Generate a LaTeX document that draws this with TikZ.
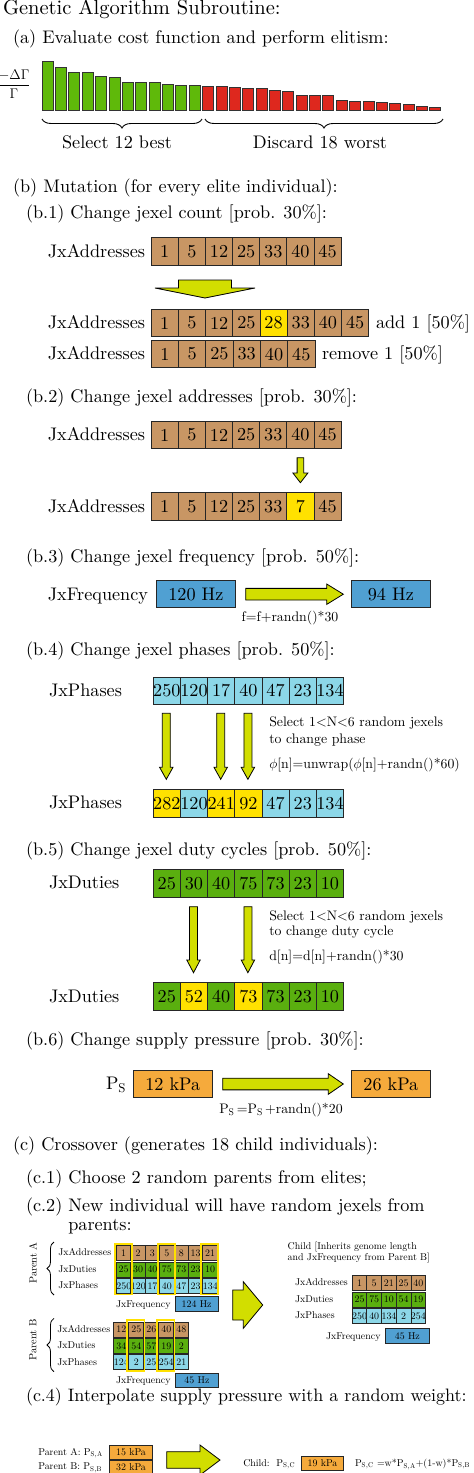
\RequirePackage{fix-cm}
\documentclass[tikz,border=0pt]{standalone}
\usepackage{fontspec}
\setmainfont{lmroman10-regular}[Extension=.otf, BoldFont=lmroman10-bold, ItalicFont=lmroman10-italic]
\usetikzlibrary{decorations.pathreplacing}
\definecolor{bargreen}{RGB}{95,185,10}
\definecolor{barred}{RGB}{222,40,30}
\definecolor{addr}{RGB}{200,150,100}
\definecolor{hl}{RGB}{255,225,0}
\definecolor{arr}{RGB}{210,222,0}
\definecolor{phcol}{RGB}{140,215,232}
\definecolor{frcol}{RGB}{80,160,210}
\definecolor{dutycol}{RGB}{90,175,15}
\definecolor{prcol}{RGB}{245,170,60}
\newcommand\mainf{\fontsize{18.2}{21}\selectfont}
\newcommand\titlef{\fontsize{20.5}{24}\selectfont}
\newcommand\smallf{\fontsize{13.8}{16.6}\selectfont}
\newcommand\tinyf{\fontsize{9.9}{11.4}\selectfont}
\tikzset{
  txt/.style={anchor=base west, inner sep=0pt, outer sep=0pt, font=\mainf},
  cellb/.style={draw=black!85, line width=0.9pt, inner sep=0pt, anchor=north west},
  boxb/.style={draw=black!85, line width=1pt, inner sep=0pt},
  blockarr/.style={fill=arr, draw=black, line width=0.8pt, line join=miter},
  bracesty/.style={line width=0.9pt, decorate},
  hlbox/.style={draw=hl, line width=1.8pt},
}
% #1 prefix, #2 x0, #3 y0, #4 w, #5 h, #6 font, #7 list v/c
\newcommand\cellrow[7]{%
  \foreach \v/\c [count=\i] in {#7}{%
    \node[cellb, font=#6, fill=\c, minimum width=#4pt, minimum height=#5pt] (#1\i) at ({#2+(\i-1)*#4},#3) {\v};
  }}
% #1 cx, #2 ytop, #3 yhead, #4 ytip, #5 shaft half, #6 head half
\newcommand\darrow[6]{\draw[blockarr] ({#1-#5},#2) -- ({#1+#5},#2) -- ({#1+#5},#3) -- ({#1+#6},#3) -- (#1,#4) -- ({#1-#6},#3) -- ({#1-#5},#3) -- cycle;}
% #1 cy, #2 xleft, #3 xhead, #4 xtip, #5 shaft half, #6 head half
\newcommand\rarrow[6]{\draw[blockarr] (#2,{#1-#5}) -- (#3,{#1-#5}) -- (#3,{#1-#6}) -- (#4,#1) -- (#3,{#1+#6}) -- (#3,{#1+#5}) -- (#2,{#1+#5}) -- cycle;}
\begin{document}
\begin{tikzpicture}[x=1pt,y=-1pt]
\useasboundingbox (0,0) rectangle (474,1473);
\fill[white] (0,0) rectangle (474,1473);
% ---------- title and (a)
\node[txt, font=\titlef] (title) at (3,14) {Genetic Algorithm Subroutine:};
\node[txt] (ha) at (13,43) {(a) Evaluate cost function and perform elitism:};
\node[anchor=center, inner sep=0pt, font=\fontsize{14}{17}\selectfont] (dg) at (14,84) {$\displaystyle\frac{-\Delta\Gamma}{\Gamma}$};
\foreach \t [count=\i] in {61.7,67.3,72.3,72.7,76.7,77.7,82,82.3,82.3,84.3,85.3,85.3,86,86.3,87.7,88,88.3,90.7,91,95.7,95.7,95.7,100.3,101,101.7,102.7,103.3,104.3,106.7,107.3}{%
  \pgfmathsetmacro\xa{42+(\i-1)*13.37}
  \ifnum\i<13 \def\bc{bargreen}\else\def\bc{barred}\fi
  \draw[fill=\bc, draw=black!80, line width=0.6pt] (\xa,\t) rectangle ({\xa+11},110.7);
}
\draw[bracesty, decoration={brace, mirror, amplitude=9pt}] (42,119) -- (202,119);
\draw[bracesty, decoration={brace, mirror, amplitude=9pt}] (205,119) -- (443,119);
\node[txt, anchor=base] (sel) at (117,148) {Select 12 best};
\node[txt, anchor=base] (dis) at (320,148) {Discard 18 worst};
% ---------- (b)
\node[txt] (hb) at (13,192) {(b) Mutation (for every elite individual):};
\node[txt] (hb1) at (26,218) {(b.1) Change jexel count [prob. 30\%]:};
\node[txt, anchor=base east] (la1) at (145,257.2) {JxAddresses};
\cellrow{a1c}{150.7}{237.3}{27.14}{27.7}{\mainf}{1/addr,5/addr,12/addr,25/addr,33/addr,40/addr,45/addr}
\darrow{205}{280}{288}{298}{26.5}{50}
\node[txt, anchor=base east] (la2) at (145,328.4) {JxAddresses};
\cellrow{a2c}{150.7}{309}{27.2}{27}{\mainf}{1/addr,5/addr,12/addr,25/addr,28/hl,33/addr,40/addr,45/addr}
\node[txt] (add) at (376,328.4) {add 1 [50\%]};
\node[txt, anchor=base east] (la3) at (145,359.6) {JxAddresses};
\cellrow{a3c}{150.7}{340}{27.3}{27.3}{\mainf}{1/addr,5/addr,25/addr,33/addr,40/addr,45/addr}
\node[txt] (rem) at (322,359.6) {remove 1 [50\%]};
% ---------- (b.2)
\node[txt] (hb2) at (26,402) {(b.2) Change jexel addresses [prob. 30\%]:};
\node[txt, anchor=base east] (lb1) at (145,440.4) {JxAddresses};
\cellrow{b1c}{150.7}{420.7}{27.14}{27.6}{\mainf}{1/addr,5/addr,12/addr,25/addr,33/addr,40/addr,45/addr}
\darrow{300.4}{457.7}{473}{482.7}{3.3}{7.5}
\node[txt, anchor=base east] (lb2) at (145,512) {JxAddresses};
\cellrow{b2c}{150.7}{492.3}{27.14}{27.7}{\mainf}{1/addr,5/addr,12/addr,25/addr,33/addr,7/hl,45/addr}
% ---------- (b.3)
\node[txt] (hb3) at (26,562) {(b.3) Change jexel frequency [prob. 50\%]:};
\node[txt, anchor=base east] (lf) at (148,600) {JxFrequency};
\node[boxb, fill=frcol, minimum width=78.3pt, minimum height=27pt, font=\mainf] (f1) at (195.85,594.2) {120 Hz};
\node[boxb, fill=frcol, minimum width=78.3pt, minimum height=27pt, font=\mainf] (f2) at (390.85,594.2) {94 Hz};
\rarrow{594.2}{245.7}{326.7}{343.3}{5.85}{10.2}
\node[txt, anchor=base, font=\smallf] (ff) at (290,621.7) {f=f+randn()*30};
% ---------- (b.4)
\node[txt] (hb4) at (26,655) {(b.4) Change jexel phases [prob. 50\%]:};
\node[txt] (lp1) at (49,696.1) {JxPhases};
\cellrow{p1c}{152.7}{677}{27.2}{26.5}{\mainf}{250/phcol,120/phcol,17/phcol,40/phcol,47/phcol,23/phcol,134/phcol}
\darrow{166.3}{713.3}{767.3}{779.3}{4}{6.7}
\darrow{220.7}{713.3}{767.3}{779.3}{4}{6.7}
\darrow{247.9}{713.3}{767.3}{779.3}{4}{6.7}
\node[txt, font=\smallf] (ps1) at (269.3,726.7) {Select 1\textless N\textless 6 random jexels};
\node[txt, font=\smallf] (ps2) at (269.3,743.3) {to change phase};
\node[txt, font=\smallf] (ps3) at (269.3,768.3) {$\phi$[n]=unwrap($\phi$[n]+randn()*60)};
\node[txt] (lp2) at (49,808.7) {JxPhases};
\cellrow{p2c}{152.7}{789}{27.2}{27.7}{\mainf}{282/hl,120/phcol,241/hl,92/hl,47/phcol,23/phcol,134/phcol}
% ---------- (b.5)
\node[txt] (hb5) at (26,855) {(b.5) Change jexel duty cycles [prob. 50\%]:};
\node[txt] (ld1) at (49,888.9) {JxDuties};
\cellrow{d1c}{152.7}{869.3}{27.2}{27.4}{\mainf}{25/dutycol,30/dutycol,40/dutycol,75/dutycol,73/dutycol,23/dutycol,10/dutycol}
\darrow{193.5}{906.7}{960}{972.7}{4}{6.7}
\darrow{247.9}{906.7}{960}{972.7}{4}{6.7}
\node[txt, font=\smallf] (ds1) at (269.3,920) {Select 1\textless N\textless 6 random jexels};
\node[txt, font=\smallf] (ds2) at (269.3,935) {to change duty cycle};
\node[txt, font=\smallf] (ds3) at (269.3,960.7) {d[n]=d[n]+randn()*30};
\node[txt] (ld2) at (49,1002) {JxDuties};
\cellrow{d2c}{152.7}{982.3}{27.2}{27.7}{\mainf}{25/dutycol,52/hl,40/dutycol,73/hl,73/dutycol,23/dutycol,10/dutycol}
% ---------- (b.6)
\node[txt] (hb6) at (26,1045) {(b.6) Change supply pressure [prob. 30\%]:};
\node[txt] (lps) at (106,1089.8) {P$_\mathrm{S}$};
\node[boxb, fill=prcol, minimum width=79pt, minimum height=27.7pt, font=\mainf] (s1) at (172.8,1083.9) {12 kPa};
\node[boxb, fill=prcol, minimum width=78.3pt, minimum height=27.7pt, font=\mainf] (s2) at (390.85,1083.9) {26 kPa};
\rarrow{1084}{222.7}{328.3}{343.3}{5.85}{10.3}
\node[txt, anchor=base, font=\smallf] (sf) at (281,1113) {P$_\mathrm{S}$\,=P$_\mathrm{S}$\,+randn()*20};
% ---------- (c)
\node[txt] (hc) at (13,1150) {(c) Crossover (generates 18 child individuals):};
\node[txt] (hc1) at (26,1183.3) {(c.1) Choose 2 random parents from elites;};
\node[txt] (hc2) at (26,1211.7) {(c.2) New individual will have random jexels from};
\node[txt] (hc2b) at (68.3,1230) {parents:};
% Parent A
\draw[bracesty, line width=0.8pt, decoration={brace, amplitude=7pt}] (54,1295) -- (54,1242);
\node[rotate=90, inner sep=0pt, font=\fontsize{10.4}{12}\selectfont] (pa) at (33,1263) {Parent A};
\node[txt, font=\tinyf] (pa1) at (58.3,1255.7) {JxAddresses};
\node[txt, font=\tinyf] (pa2) at (58.3,1272.2) {JxDuties};
\node[txt, font=\tinyf] (pa3) at (58.3,1288.7) {JxPhases};
\cellrow{pac}{116}{1245}{14.4}{15}{\tinyf}{1/addr,2/addr,3/addr,5/addr,8/addr,13/addr,21/addr}
\cellrow{pad}{116}{1261.5}{14.4}{15}{\tinyf}{25/dutycol,30/dutycol,40/dutycol,75/dutycol,73/dutycol,23/dutycol,10/dutycol}
\cellrow{pap}{116}{1278}{14.4}{15}{\tinyf}{250/phcol,120/phcol,17/phcol,40/phcol,47/phcol,23/phcol,134/phcol}
\foreach \k in {1,4,7}{\draw[hlbox] ({116+(\k-1)*14.4-1.2},1243.6) rectangle ({116+\k*14.4+1.2},1294.4);}
\node[txt, font=\tinyf] (paf) at (116,1307) {JxFrequency};
\node[boxb, fill=frcol, minimum width=43.3pt, minimum height=14.3pt, font=\tinyf] (pafb) at (196.65,1303.85) {124 Hz};
% Parent B
\draw[bracesty, line width=0.8pt, decoration={brace, amplitude=7pt}] (54,1371.7) -- (54,1318.3);
\node[rotate=90, inner sep=0pt, font=\fontsize{10.4}{12}\selectfont] (pb) at (33,1340) {Parent B};
\node[txt, font=\tinyf] (pb1) at (57.3,1332.4) {JxAddresses};
\node[txt, font=\tinyf] (pb2) at (57.3,1348.7) {JxDuties};
\node[txt, font=\tinyf] (pb3) at (57.3,1365) {JxPhases};
\cellrow{pbc}{113.3}{1321.7}{15}{15}{\tinyf}{12/addr,25/addr,26/addr,40/addr,48/addr}
\cellrow{pbd}{113.3}{1338}{15}{15}{\tinyf}{34/dutycol,54/dutycol,57/dutycol,19/dutycol,2/dutycol}
\cellrow{pbp}{113.3}{1354.3}{15}{15}{\tinyf}{124/phcol,2/phcol,25/phcol,254/phcol,21/phcol}
\foreach \k in {2,4}{\draw[hlbox] ({113.3+(\k-1)*15-1.2},1320.2) rectangle ({113.3+\k*15+1.2},1370.8);}
\node[txt, font=\tinyf] (pbf) at (116,1383.8) {JxFrequency};
\node[boxb, fill=frcol, minimum width=42.6pt, minimum height=14.4pt, font=\tinyf] (pbfb) at (197,1380.5) {45 Hz};
% arrow to child
\rarrow{1305}{232.7}{243.3}{262.7}{15}{23.3}
% Child
\node[txt, font=\tinyf] (ch1) at (287.7,1249.3) {Child [Inherits genome length};
\node[txt, font=\tinyf] (ch2) at (287.7,1260.7) {and JxFrequency from Parent B]};
\node[txt, font=\tinyf] (cl1) at (295,1285.7) {JxAddresses};
\node[txt, font=\tinyf] (cl2) at (295,1302.2) {JxDuties};
\node[txt, font=\tinyf] (cl3) at (295,1318.7) {JxPhases};
\cellrow{cc}{351.7}{1275}{14.7}{15}{\tinyf}{1/addr,5/addr,21/addr,25/addr,40/addr}
\cellrow{cd}{351.7}{1291.5}{14.7}{15}{\tinyf}{25/dutycol,75/dutycol,10/dutycol,54/dutycol,19/dutycol}
\cellrow{cp}{351.7}{1308}{14.7}{15}{\tinyf}{250/phcol,40/phcol,134/phcol,2/phcol,254/phcol}
\node[txt, font=\tinyf] (cf) at (326,1339) {JxFrequency};
\node[boxb, fill=frcol, minimum width=43.3pt, minimum height=15pt, font=\tinyf] (cfb) at (407.35,1335.8) {45 Hz};
% ---------- (c.4)
\node[txt, font=\fontsize{18}{21}\selectfont] (hc4) at (26,1401.7) {(c.4) Interpolate supply pressure with a random weight:};
\node[txt, font=\tinyf] (qa) at (38.3,1455.3) {Parent A: P$_\mathrm{S,A}$};
\node[boxb, fill=prcol, minimum width=43.4pt, minimum height=14pt, font=\tinyf] (qab) at (131,1452) {15 kPa};
\node[txt, font=\tinyf] (qb) at (38.3,1469.8) {Parent B: P$_\mathrm{S,B}$};
\node[boxb, fill=prcol, minimum width=43.4pt, minimum height=14pt, font=\tinyf] (qbb) at (131,1467.5) {32 kPa};
\rarrow{1460}{166.7}{200}{220}{8.3}{15}
\node[txt, font=\tinyf] (qc) at (243.3,1466.5) {Child:\ \ P$_\mathrm{S,C}$};
\node[boxb, fill=prcol, minimum width=41.6pt, minimum height=13.3pt, font=\tinyf] (qcb) at (322.5,1463.35) {19 kPa};
\node[txt, font=\tinyf] (qf) at (355,1466.5) {P$_\mathrm{S,C}$ =w*P$_\mathrm{S,A}$+(1-w)*P$_\mathrm{S,B}$};
\end{tikzpicture}
\end{document}
